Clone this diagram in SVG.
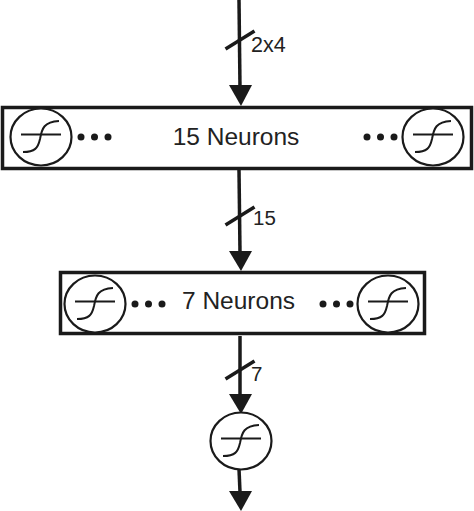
<svg xmlns="http://www.w3.org/2000/svg" width="474" height="511" viewBox="0 0 474 511">
<style>
.box{fill:#fff;stroke:#1a1a1a;stroke-width:3.500}
.c{fill:#fff;stroke:#1a1a1a;stroke-width:2.200}
.s{fill:none;stroke:#1a1a1a;stroke-width:2}
.w{fill:none;stroke:#1a1a1a;stroke-width:3.500}
.d{fill:#1a1a1a}
.h{fill:#1a1a1a;stroke:none}
text{font-family:"Liberation Sans",Arial,sans-serif;fill:#222}
</style>
<defs>
<g id="neuron">
<ellipse class="c" cx="0" cy="0" rx="30.5" ry="28.5"/>
<path class="s" d="M-20 -2.500H20"/>
<path class="s" d="M-18 15C-6 15 -3 11 -1 2C1 -9 3 -15 18 -16"/>
</g>
<g id="dots"><circle class="d" cx="0" cy="0" r="3.500"/><circle class="d" cx="13.500" cy="0" r="3.500"/><circle class="d" cx="27" cy="0" r="3.500"/></g>
</defs>
<g id="connectors">
<path class="w" d="M239 0L240 88"/><path class="h" d="M229 85H252L241 106Z"/>
<path class="w" d="M225.500 49L254.500 31"/>
<path class="w" d="M239 170L240 253"/><path class="h" d="M229 251H252L241 271Z"/>
<path class="w" d="M225.500 225L254.500 207"/>
<path class="w" d="M240 336L240 396"/><path class="h" d="M229 394H252L241 414Z"/>
<path class="w" d="M225.500 379L254.500 361"/>
<path class="w" d="M239 469L240 492"/><path class="h" d="M229 491H252L241 511Z"/>
</g>
<g id="label-2x4"><text x="251" y="52" font-size="21.500">2x4</text></g>
<g id="label-15"><text x="253" y="225" font-size="20.500">15</text></g>
<g id="label-7"><text x="251" y="381" font-size="20.500">7</text></g>
<g id="layer-15">
<rect class="box" x="2.500" y="107.500" width="469" height="61"/>
<use href="#neuron" x="41" y="137"/>
<use href="#dots" x="81" y="137"/>
<text x="236" y="145" font-size="24.500" text-anchor="middle">15 Neurons</text>
<use href="#dots" x="367" y="137"/>
<use href="#neuron" x="433" y="137"/>
</g>
<g id="layer-7">
<rect class="box" x="60.500" y="272.500" width="364" height="61"/>
<use href="#neuron" x="95" y="304"/>
<use href="#dots" x="135" y="304"/>
<text x="238.500" y="309" font-size="24.500" text-anchor="middle">7 Neurons</text>
<use href="#dots" x="323" y="304"/>
<use href="#neuron" x="388" y="304"/>
</g>
<g id="output-neuron"><use href="#neuron" x="241" y="441"/></g>
</svg>
